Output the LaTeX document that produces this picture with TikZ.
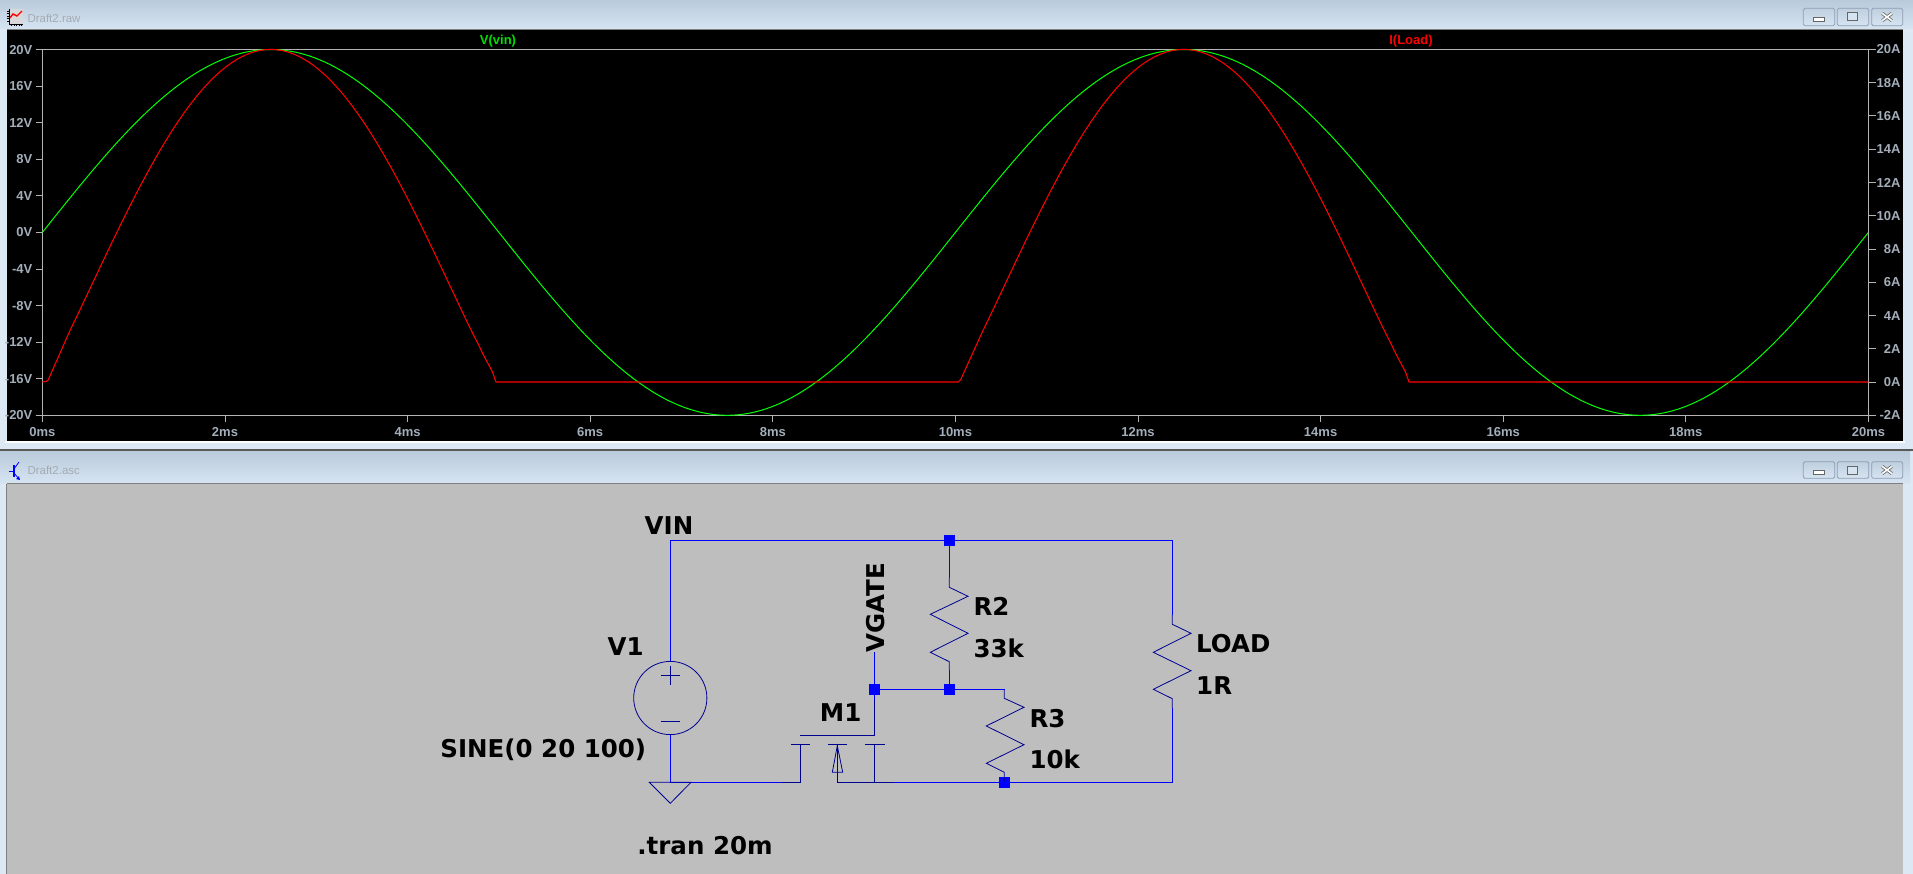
\documentclass[tikz,border=0pt]{standalone}
\usepackage{fontspec}
\setmainfont{Liberation Sans}
\newfontfamily\schfont{DejaVu Sans}
\definecolor{framebg}{HTML}{DCE8F4}
\definecolor{titletop}{HTML}{B9CADA}
\definecolor{titlebot}{HTML}{D6E4F2}
\definecolor{axisline}{HTML}{B4B4B4}
\definecolor{axistext}{HTML}{A3AEBA}
\definecolor{titletext}{HTML}{A3ABB3}
\definecolor{plotgreen}{HTML}{00FF00}
\definecolor{plotred}{HTML}{FF0000}
\definecolor{labelgreen}{HTML}{00E000}
\definecolor{schembg}{HTML}{BEBEBE}
\definecolor{wireblue}{HTML}{0000FF}
\definecolor{symblue}{HTML}{000090}
\definecolor{btnborder}{HTML}{8E9DB4}
\tikzset{
  axisstyle/.style={draw=axisline,line width=0.9pt},
  axislabel/.style={inner sep=0pt,text=axistext,font=\bfseries\fontsize{13}{14}\selectfont},
  tracelabel/.style={inner sep=0pt,anchor=base,font=\bfseries\fontsize{13}{14}\selectfont},
  wintitle/.style={inner sep=0pt,anchor=west,text=titletext,font=\fontsize{11.5}{13}\selectfont},
  wire/.style={draw=wireblue,line width=1pt},
  symbol/.style={draw=symblue,line width=0.8pt},
  junction/.style={fill=wireblue,draw=none,minimum size=10.7pt,inner sep=0pt,outer sep=0pt,rectangle},
  schtext/.style={inner sep=0pt,text=black,font=\schfont\bfseries\fontsize{24.5}{26}\selectfont},
  winbutton/.style={draw=btnborder,line width=0.8pt,rounded corners=1.5pt,top color=titletop!90!white,bottom color=titlebot},
  glyph/.style={draw=black!60,fill=white,line width=0.7pt},
}
\begin{document}
\begin{tikzpicture}[x=1pt,y=-1pt]
\useasboundingbox (0,0) rectangle (1913,874);
% window frames
\fill[framebg] (0,0) rectangle (1913,874);
\fill[top color=titletop,bottom color=titlebot,draw=none] (0,0) rectangle (1913,29);
\fill[black] (7,30) rectangle (1903,441);
\draw[gray,line width=1pt] (6.5,29.5) -- (1903,29.5);
\fill[white] (5,441) rectangle (1905,443);
\fill[framebg] (0,443) rectangle (1913,449);
\fill[black!65] (0,449) rectangle (1913,451);
\fill[top color=titletop,bottom color=titlebot,draw=none] (0,451) rectangle (1910,483);
\fill[schembg] (7,484) rectangle (1903,874);
\draw[gray,line width=1pt] (6.5,483.5) -- (1903,483.5) ;
\draw[gray,line width=1pt] (6.5,483.5) -- (6.5,874);
% title texts
\node[wintitle] (t1) at (27.3,18) {Draft2.raw};
\node[wintitle] (t2) at (27.3,470.7) {Draft2.asc};
% icon chart
\fill[black!15] (9,9) rectangle (23,24);
\draw[black,line width=0.8pt] (9,9) -- (9,24) -- (23,24);
\foreach \k in {11,13.5,16,18.5,21}{\draw[black,line width=0.6pt] (7,\k) -- (9,\k);\draw[black,line width=0.6pt] (\k+0.5,24) -- (\k+0.5,26);}
\draw[plotred,line width=1.4pt] (10,18) -- (13,14) -- (17,16) -- (22,11);
% icon transistor
\draw[wireblue,line width=1pt] (9,471) -- (14,471);
\draw[wireblue,line width=1.3pt] (14,465) -- (14,477);
\draw[wireblue,line width=0.8pt] (14,469) -- (19,462);
\draw[wireblue,line width=0.8pt] (14,473) -- (19,479);
\fill[wireblue] (20,480) -- (16,479) -- (19,476) -- cycle;
% buttons
\foreach \yo/\yb in {8.3/25.7,461.7/478.3}{
  \draw[winbutton] (1803.3,\yo) rectangle (1834.7,\yb);
  \draw[winbutton] (1837.3,\yo) rectangle (1868.7,\yb);
  \draw[winbutton] (1871.7,\yo) rectangle (1902.7,\yb);
  \draw[glyph] (1813.7,{(\yo+\yb)/2+0.7}) rectangle (1824.2,{(\yo+\yb)/2+4.2});
  \draw[glyph,fill=titlebot,line width=1pt] (1847.8,{(\yo+\yb)/2-4}) rectangle (1857.8,{(\yo+\yb)/2+4});
  \draw[black!60,line width=3.2pt] (1882.2,{(\yo+\yb)/2-3.6}) -- (1891.8,{(\yo+\yb)/2+3.6}) (1882.2,{(\yo+\yb)/2+3.6}) -- (1891.8,{(\yo+\yb)/2-3.6});
  \draw[white,line width=1.6pt] (1882.2,{(\yo+\yb)/2-3.6}) -- (1891.8,{(\yo+\yb)/2+3.6}) (1882.2,{(\yo+\yb)/2+3.6}) -- (1891.8,{(\yo+\yb)/2-3.6});
}
% plot axes
\draw[axisstyle] (35.5,49.5) -- (1876,49.5);
\draw[axisstyle] (35.5,415.3) -- (1876,415.3);
\draw[axisstyle] (42.4,49.5) -- (42.4,422);
\draw[axisstyle] (1868.3,49.5) -- (1868.3,422);
\foreach \v in {-20,-16,...,20}{
  \draw[axisstyle] (35.5,{232.4-9.145*\v}) -- (42.4,{232.4-9.145*\v});
  \node[axislabel,anchor=base east] at (32.6,{232.4-9.145*\v+4.6}) {\v V};
}
\foreach \a in {-2,0,...,20}{
  \draw[axisstyle] (1868.3,{382-16.63*\a}) -- (1876,{382-16.63*\a});
  \node[axislabel,anchor=base east] at (1900.7,{382-16.63*\a+4.6}) {\a A};
}
\foreach \t in {0,2,...,20}{
  \draw[axisstyle] ({42.4+91.3*\t},415.3) -- ({42.4+91.3*\t},422);
  \node[axislabel,anchor=base] at ({42.4+91.3*\t},436) {\t ms};
}
\node[tracelabel,text=labelgreen] (vvin) at (498,44.3) {V(vin)};
\node[tracelabel,text=plotred] (iload) at (1411,44.3) {I(Load)};
% traces
\draw[plotgreen,line width=1pt] plot[domain=0:20,samples=300,smooth] ({42.4+91.3*\x},{232.4-182.9*sin(36*\x)});
\draw[plotred,line width=1.05pt,line join=round] (42.4,382) -- (46,381.5) -- (48.2,380)
  -- plot[domain=0.3:4.93,samples=90] ({42.4+91.3*\x},{382-332.6*pow(abs(sin(36*\x)),1.12)})
  -- (496,382) -- (958,382) -- (960.5,380)
  -- plot[domain=10.3:14.93,samples=90] ({42.4+91.3*\x},{382-332.6*pow(abs(sin(36*\x)),1.12)})
  -- (1409,382) -- (1868.3,382);
% schematic coordinates
\coordinate (vintl) at (670.3,540.3);
\coordinate (vintr) at (1172.3,540.3);
\coordinate (srct) at (670.3,661.4);
\coordinate (srcb) at (670.3,734.7);
\coordinate (gnd) at (670.3,782.3);
\coordinate (botr) at (1172.3,782.3);
\coordinate (gatecorner) at (800.3,782.3);
\coordinate (gatetop) at (800.3,744.3);
\coordinate (dtop) at (874.3,735.3);
\coordinate (vgatetop) at (874.3,652.3);
\coordinate (bulkb) at (837.3,782.3);
\coordinate (r3top) at (1004.3,689.3);
% junctions
\node[junction] (j1) at (949.3,540.3) {};
\node[junction] (j2) at (874.3,689.3) {};
\node[junction] (j3) at (949.3,689.3) {};
\node[junction] (j4) at (1004.3,782.3) {};
% wires
\draw[wire] (srct) -- (vintl) -- (j1.center) -- (vintr) -- (1172.3,615);
\draw[wire] (j1.center) -- (949.3,578);
\draw[wire] (j3.center) -- (949.3,670);
\draw[wire] (vgatetop) -- (j2.center) -- (j3.center) -- (r3top) -- (1004.3,690);
\draw[wire] (srcb) -- (gnd) -- (782,782.3);
\draw[wire] (892.7,782.3) -- (j4.center) -- (botr) -- (1172.3,708);
\draw[wire] (j2.center) -- (874.3,700);
% resistors
\draw[symbol] (949.3,578) -- (949.3,587.3) -- (968,596.3) -- (930.3,614.3) -- (968,633.3) -- (930.3,652.3) -- (949.3,661.7) -- (949.3,670);
\draw[symbol] (1172.3,615) -- (1172.3,624.3) -- (1191,633.3) -- (1153.3,652.3) -- (1191,670.7) -- (1153.3,689.3) -- (1172.3,698.7) -- (1172.3,708);
\draw[symbol] (1004.3,690) -- (1004.3,698.3) -- (1024,707.3) -- (986.3,726) -- (1024,744.7) -- (986.3,763.3) -- (1004.3,772.3) -- (j4.center);
% source
\node[symbol,draw,circle,minimum size=73.2pt,inner sep=0pt] (v1) at (670.3,698) {};
\draw[symbol] (660.8,675.7) -- (679.8,675.7) (670.3,666.2) -- (670.3,685.2);
\draw[symbol] (660.8,721.3) -- (679.8,721.3);
% ground
\draw[symbol] (649.3,782.3) -- (691,782.3) -- (670.3,803.3) -- cycle;
% mosfet
\draw[symbol] (782,782.3) -- (gatecorner) -- (gatetop);
\draw[symbol] (791,744.3) -- (810,744.3);
\draw[symbol] (828,744.3) -- (847,744.3);
\draw[symbol] (865,744.3) -- (885,744.3);
\draw[symbol] (800,735.3) -- (dtop) -- (874.3,700);
\draw[symbol] (874.3,744.3) -- (874.3,782.3);
\draw[symbol] (837.3,745.7) -- (842.7,772.3) -- (832.3,772.3) -- cycle;
\draw[symbol] (837.3,744.3) -- (837.3,772.3);
\draw[symbol] (837.3,772.3) -- (bulkb) -- (892.7,782.3);
% labels
\node[schtext,anchor=base] (lvin) at (669,534.7) {VIN};
\node[schtext,anchor=base] (lv1) at (625.7,655.7) {V1};
\node[schtext,anchor=base] (lsine) at (543.3,757.7) {SINE(0 20 100)};
\node[schtext,anchor=base] (lm1) at (840.7,721.3) {M1};
\node[schtext,anchor=base,rotate=90] (lvg) at (884.3,608) {VGATE};
\node[schtext,anchor=base] (ltran) at (705,854.3) {.tran 20m};
\node[schtext,anchor=base west] (lr2) at (973.3,615.7) {R2};
\node[schtext,anchor=base west] (l33k) at (973.3,657.3) {33k};
\node[schtext,anchor=base west] (lr3) at (1029.3,727.3) {R3};
\node[schtext,anchor=base west] (l10k) at (1029.3,768.7) {10k};
\node[schtext,anchor=base west] (lload) at (1196,652.7) {LOAD};
\node[schtext,anchor=base west] (l1r) at (1196,694.7) {1R};
\end{tikzpicture}
\end{document}
